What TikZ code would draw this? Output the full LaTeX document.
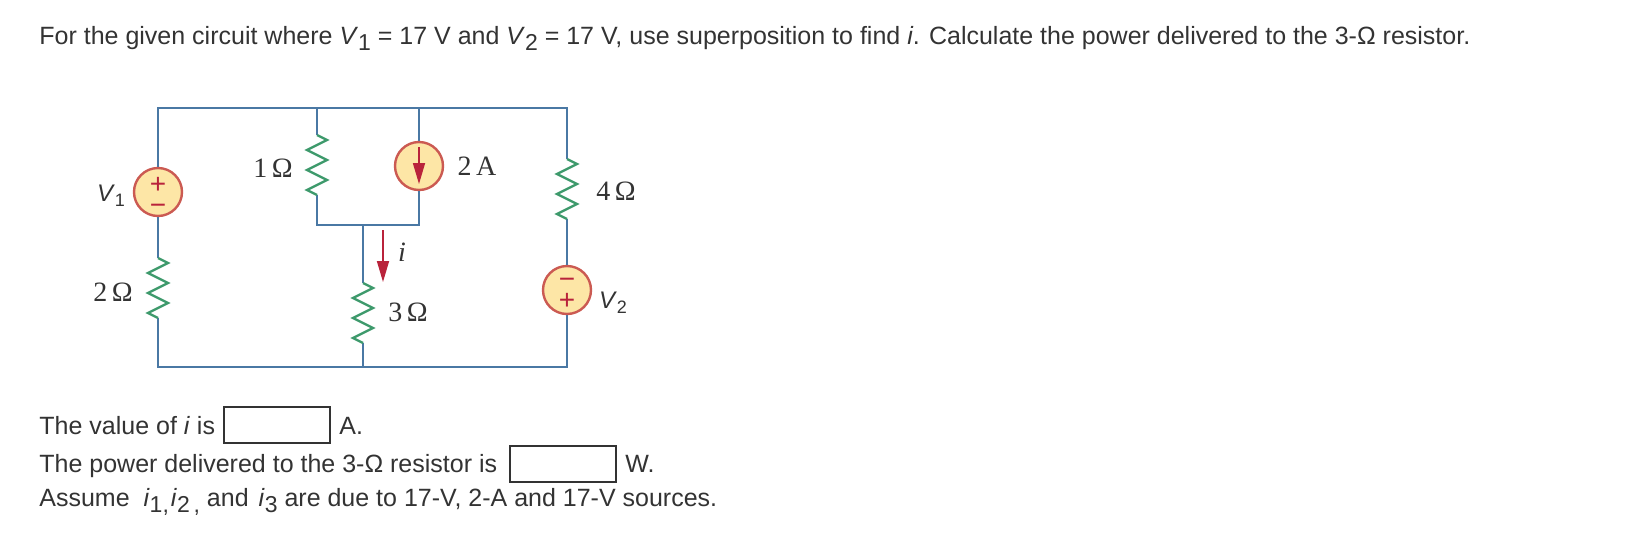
\documentclass[tikz,border=0pt]{standalone}
\usepackage{fontspec}
\setmainfont{Liberation Sans}
\newfontfamily\valfont{Liberation Serif}
\usetikzlibrary{arrows.meta}
\usetikzlibrary{decorations.pathmorphing}
\usetikzlibrary{positioning}
\definecolor{wirecol}{HTML}{4A78A4}
\definecolor{rescol}{HTML}{3E9A6C}
\definecolor{srcfill}{HTML}{FDE6A6}
\definecolor{srcline}{HTML}{CB5A52}
\definecolor{redcol}{HTML}{B9233B}
\definecolor{txtcol}{HTML}{333333}
\newcommand{\low}[1]{\raisebox{-0.5ex}{\fontsize{11.5pt}{12pt}\selectfont #1}}
\tikzset{
    wire/.style={draw=wirecol,line width=1.2pt},
    res/.style={draw=rescol,line width=1.2pt,decorate,decoration={zigzag,amplitude=5pt,segment length=10pt}},
    source/.style={circle,draw=srcline,fill=srcfill,line width=1.2pt,minimum size=24pt,inner sep=0pt},
    polar/.style={text=redcol,inner sep=0pt,align=center,yshift=-2pt,font=\fontsize{14pt}{10.5pt}\selectfont},
    val/.style={text=txtcol,inner sep=0pt,font=\valfont\fontsize{14pt}{14pt}\selectfont},
    volt/.style={text=txtcol,inner sep=0pt,font=\fontsize{12pt}{12pt}\selectfont},
    line/.style={anchor=base west,text=txtcol,inner sep=0pt,font=\fontsize{12.5pt}{14pt}\selectfont},
    ansbox/.style={draw=txtcol,line width=0.7pt,minimum width=53pt,minimum height=18pt,inner sep=0pt},
    redarrow/.style={draw=redcol,line width=0.8pt,-{Triangle[length=10.5pt,width=6pt]}}
}
\begin{document}
\begin{tikzpicture}[x=0.5pt,y=-0.5pt]
    \useasboundingbox (0,0) rectangle (1650,552);
    % corners
    \coordinate (tl) at (158,108);
    \coordinate (tm) at (317,108);
    \coordinate (tc) at (419,108);
    \coordinate (tr) at (567,108);
    \coordinate (bl) at (158,367);
    \coordinate (bm) at (363,367);
    \coordinate (br) at (567,367);
    \coordinate (ml) at (317,225);
    \coordinate (mm) at (363,225);
    \coordinate (mr) at (419,225);
    % resistors
    \coordinate (r1a) at (317,135);
    \coordinate (r1b) at (317,195);
    \coordinate (r2a) at (158,258);
    \coordinate (r2b) at (158,318);
    \coordinate (r3a) at (363,283);
    \coordinate (r3b) at (363,343);
    \coordinate (r4a) at (567,159);
    \coordinate (r4b) at (567,219);
    % sources
    \node [source] (v1) at (158,192) {};
    \node [source] (cs) at (419,166) {};
    \node [source] (v2) at (567,290) {};
    \node [polar] (v1s) at (v1) {+\\−};
    \node [polar] (v2s) at (v2) {−\\+};
    % wires
    \draw [wire] (v1) -- (tl) -- (tr) -- (r4a);
    \draw [wire] (tm) -- (r1a);
    \draw [wire] (r1b) -- (ml) -- (mr) -- (cs);
    \draw [wire] (tc) -- (cs);
    \draw [wire] (mm) -- (r3a);
    \draw [wire] (r3b) -- (bm);
    \draw [wire] (v1) -- (r2a);
    \draw [wire] (r2b) -- (bl) -- (br) -- (v2);
    \draw [wire] (r4b) -- (v2);
    \draw [res] (r1a) -- (r1b);
    \draw [res] (r2a) -- (r2b);
    \draw [res] (r3a) -- (r3b);
    \draw [res] (r4a) -- (r4b);
    % arrows
    \coordinate (csa) at (419,147);
    \coordinate (csb) at (419,184);
    \coordinate (ia) at (383,230);
    \coordinate (ib) at (383,282);
    \draw [redarrow] (csa) -- (csb);
    \draw [redarrow] (ia) -- (ib);
    % labels
    \node [val] (l1) at (273,168) {1\,Ω};
    \node [val] (l2) at (113,292) {2\,Ω};
    \node [val] (l3) at (408,312) {3\,Ω};
    \node [val] (l4) at (616,191) {4\,Ω};
    \node [val] (la) at (477,166) {2\,A};
    \node [val] (li) at (402,252) {\textit{i}};
    \node [volt] (lv1) at (111,196) {\textit{V}\raisebox{-0.4ex}{\fontsize{9pt}{9pt}\selectfont 1}};
    \node [volt] (lv2) at (613,303) {\textit{V}\raisebox{-0.4ex}{\fontsize{9pt}{9pt}\selectfont 2}};
    % text
    \node [line] (t1) at (39,44) {For the given circuit where \textit{V}\low{1} = 17 V and \textit{V}\low{2} = 17 V, use superposition to find \textit{i}. Calculate the power delivered to the 3-Ω resistor.};
    \node [line] (t2) at (39,434) {The value of \textit{i} is};
    \node [ansbox] (b1) at (277,425) {};
    \node [line] (t3) at (339,434) {A.};
    \node [line] (t4) at (39,472) {The power delivered to the 3-Ω resistor is};
    \node [ansbox] (b2) at (563,464) {};
    \node [line] (t5) at (625,472) {W.};
    \node [line] (t6) at (39,506) {Assume~ \textit{i}\low{1,}\hspace{1pt}\textit{i}\low{2\,,} and\hspace{5pt}\textit{i}\low{3} are due to 17-V, 2-A and 17-V sources.};
\end{tikzpicture}
\end{document}
